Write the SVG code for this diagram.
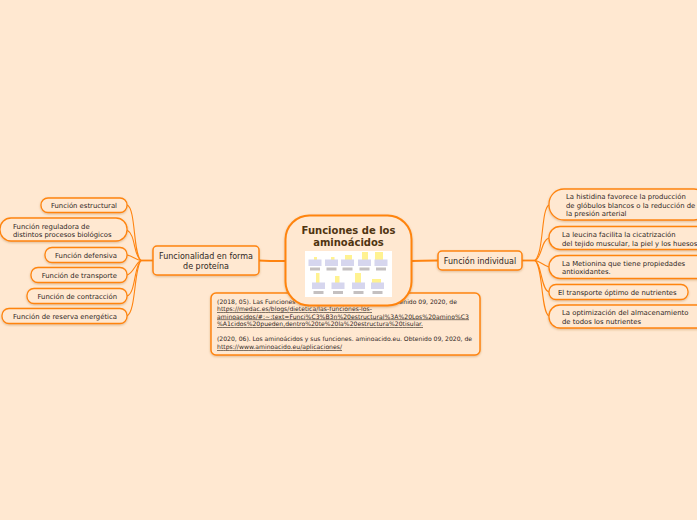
<svg xmlns="http://www.w3.org/2000/svg" width="697" height="520" viewBox="0 0 697 520">
<defs>
<filter id="sh" x="-10%" y="-10%" width="120%" height="130%"><feDropShadow dx="0" dy="1" stdDeviation="1" flood-color="#a06020" flood-opacity="0.35"/></filter>
</defs>
<style>
text{font-family:"DejaVu Sans",Verdana,sans-serif;fill:#2f271e}
.n{fill:#ffe8d1;stroke:#ff8410;stroke-width:1.3;filter:url(#sh)}
.s{font-size:6.87px}
.m{font-size:8px}
.r{font-size:6.1px}
.u{text-decoration:underline}
.c{fill:none;stroke:#ff8410;stroke-width:1.1}
.t{fill:none;stroke:#ff8410;stroke-width:1.8}
.cell{fill:#d6d6ee}
.y{fill:#fff291}
.g{fill:#c4c0c0}
.h{font-size:10px;font-weight:bold;text-anchor:middle}
text.h{fill:#4f3410}
</style>
<rect width="697" height="520" fill="#ffe8d1"/>
<g id="connectors">
<path class="t" d="M259 260.500C268 261 276 261 286 261"/>
<path class="t" d="M411 261C420 260.500 428 260.500 438 260.500"/>
<path class="t" d="M153 260.500L141 260.500"/>
<path class="c" d="M141 260.500C133 255 136 208 127 205"/>
<path class="c" d="M141 260.500C133 255 136 235 127 230"/>
<path class="c" d="M141 260.500C136 260 133 256 127 255"/>
<path class="c" d="M141 260.500C136 262 133 274 127 275"/>
<path class="c" d="M141 260.500C134 265 136 293 127 296"/>
<path class="c" d="M141 260.500C134 268 136 312 127 316"/>
<path class="t" d="M522 260.500L535 260.500"/>
<path class="c" d="M535 260.500C544 252 541 209 549 205"/>
<path class="c" d="M535 260.500C542 258 541 240 549 238"/>
<path class="c" d="M535 260.500C540 261 544 266 549 267"/>
<path class="c" d="M535 260.500C542 264 541 290 549 292"/>
<path class="c" d="M535 260.500C543 266 541 313 549 316"/>
</g>
<g id="refs">
<rect class="n" x="211" y="293" width="269" height="62" rx="5" style="stroke-width:1.500"/>
<text class="r" x="217" y="303.500">(2018, 05). Las Funciones</text>
<text class="r" x="457" y="303.500" text-anchor="end">Obtenido 09, 2020, de</text>
<text class="r u" x="217" y="311" textLength="155">https://medac.es/blogs/dietetica/las-funciones-los-</text>
<text class="r u" x="217" y="318.500" textLength="252">aminoacidos/#:~:text=Funci%C3%B3n%20estructural%3A%20Los%20amino%C3</text>
<text class="r u" x="217" y="326" textLength="206">%A1cidos%20pueden,dentro%20te%20la%20estructura%20tisular.</text>
<text class="r" x="217" y="341" textLength="255">(2020, 06). Los aminoácidos y sus funciones. aminoacido.eu. Obtenido 09, 2020, de</text>
<text class="r u" x="217" y="349" textLength="125">https://www.aminoacido.eu/aplicaciones/</text>
</g>
<g id="root">
<rect class="n" x="285.500" y="215.500" width="126" height="90" rx="24" style="stroke-width:2"/>
<text class="h" x="348.500" y="234">Funciones de los</text>
<text class="h" x="348.500" y="246">aminoácidos</text>
<rect x="305" y="251" width="87" height="46" fill="#fff"/>
<g class="y">
<rect x="314" y="257" width="3" height="3"/><rect x="331" y="257" width="3.500" height="3"/><rect x="345" y="255" width="7" height="5"/><rect x="362" y="252" width="6" height="8"/><rect x="375" y="252" width="8" height="8"/>
<rect x="316" y="273" width="3.500" height="10"/><rect x="335" y="276" width="4.500" height="7"/><rect x="355" y="273" width="6" height="10"/><rect x="372" y="279" width="9" height="4"/>
</g>
<g class="cell">
<rect x="308.500" y="259.500" width="13" height="6.500"/><rect x="325" y="259.500" width="13" height="6.500"/><rect x="341" y="259.500" width="13" height="6.500"/><rect x="358" y="259.500" width="13" height="6.500"/><rect x="374.500" y="259.500" width="13" height="6.500"/>
<rect x="312" y="282.500" width="13" height="6.500"/><rect x="331.500" y="282.500" width="13" height="6.500"/><rect x="352" y="282.500" width="13" height="6.500"/><rect x="371" y="282.500" width="13" height="6.500"/>
</g>
<g class="g">
<rect x="310" y="267.500" width="10" height="3"/><rect x="326.500" y="267.500" width="10" height="3"/><rect x="342.500" y="267.500" width="10" height="3"/><rect x="359.500" y="267.500" width="10" height="3"/><rect x="376" y="267.500" width="10" height="3"/>
<rect x="313.500" y="291" width="10" height="3"/><rect x="333" y="291" width="10" height="3"/><rect x="353.500" y="291" width="10" height="3"/><rect x="372.500" y="291" width="10" height="3"/>
</g>
</g>
<g id="left-main"><rect class="n" x="153" y="246" width="106" height="29" rx="4" style="stroke-width:1.500"/>
<text class="m" x="206" y="259" text-anchor="middle">Funcionalidad en forma</text><text class="m" x="206" y="269" text-anchor="middle">de proteína</text></g>
<g id="right-main"><rect class="n" x="438" y="251" width="84" height="19" rx="4" style="stroke-width:1.500"/>
<text class="m" x="480" y="264" text-anchor="middle">Función individual</text></g>
<g id="l1"><rect class="n" x="41" y="198" width="86" height="14.500" rx="7"/><text class="s" x="117" y="208" text-anchor="end">Función estructural</text></g>
<g id="l2"><rect class="n" x="0" y="218" width="127" height="23" rx="11"/><text class="s" x="13" y="229">Función reguladora de</text><text class="s" x="13" y="237.300">distintos procesos biológicos</text></g>
<g id="l3"><rect class="n" x="45" y="247.500" width="82" height="15" rx="7"/><text class="s" x="117" y="258" text-anchor="end">Función defensiva</text></g>
<g id="l4"><rect class="n" x="31" y="267.500" width="96" height="15" rx="7"/><text class="s" x="117" y="278" text-anchor="end">Función de transporte</text></g>
<g id="l5"><rect class="n" x="27" y="288.500" width="100" height="15" rx="7"/><text class="s" x="117" y="299" text-anchor="end">Función de contracción</text></g>
<g id="l6"><rect class="n" x="2" y="308.500" width="125" height="15" rx="7"/><text class="s" x="117" y="319" text-anchor="end">Función de reserva energética</text></g>
<g id="r1"><rect class="n" x="549" y="189" width="160" height="31" rx="15"/><text class="s" x="566" y="199">La histidina favorece la producción</text><text class="s" x="566" y="208">de glóbulos blancos o la reducción de</text><text class="s" x="566" y="216">la presión arterial</text></g>
<g id="r2"><rect class="n" x="549" y="226.500" width="160" height="23" rx="11"/><text class="s" x="562" y="237">La leucina facilita la cicatrización</text><text class="s" x="562" y="246">del tejido muscular, la piel y los huesos</text></g>
<g id="r3"><rect class="n" x="549" y="255.500" width="160" height="23" rx="11"/><text class="s" x="562" y="266">La Metionina que tiene propiedades</text><text class="s" x="562" y="274">antioxidantes.</text></g>
<g id="r4"><rect class="n" x="549" y="284.500" width="139" height="15" rx="7"/><text class="s" x="558" y="295">El transporte óptimo de nutrientes</text></g>
<g id="r5"><rect class="n" x="549" y="305" width="160" height="23" rx="11"/><text class="s" x="562" y="315">La optimización del almacenamiento</text><text class="s" x="562" y="324">de todos los nutrientes</text></g>
</svg>
